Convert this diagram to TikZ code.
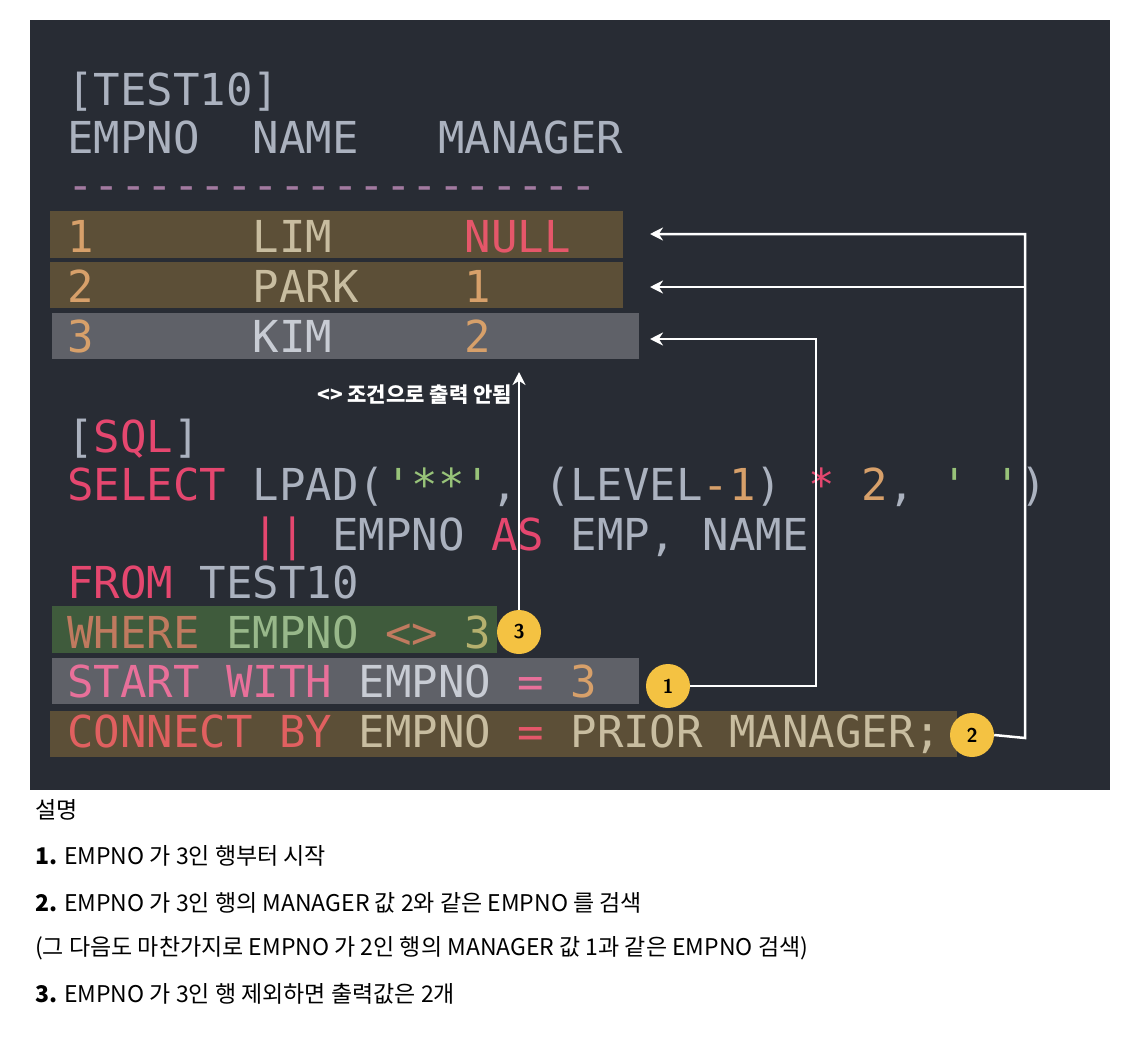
\documentclass[tikz,border=0pt]{standalone}
\usepackage{fontspec}
\setmonofont{DejaVu Sans Mono}
\newfontfamily\kr{Noto Sans CJK KR}
\usetikzlibrary{arrows.meta}
\definecolor{bg}{HTML}{282C34}
\definecolor{brn}{HTML}{5C4F37}
\definecolor{gry}{HTML}{5F6168}
\definecolor{grn}{HTML}{3F5B3C}
\definecolor{txt}{HTML}{ABB2BF}
\definecolor{lgt}{HTML}{C8CCD4}
\definecolor{beig}{HTML}{C8BDA0}
\definecolor{org}{HTML}{D7A06A}
\definecolor{red}{HTML}{E5576A}
\definecolor{pnk}{HTML}{E5476F}
\definecolor{pnk2}{HTML}{E8709A}
\definecolor{grnt}{HTML}{98C379}
\definecolor{purp}{HTML}{A37AA0}
\definecolor{wred}{HTML}{C07A5F}
\definecolor{wgrn}{HTML}{98B88A}
\definecolor{wyel}{HTML}{B5B06E}
\definecolor{cred}{HTML}{E06060}
\definecolor{yel}{HTML}{F4C242}
\tikzset{
  code/.style={anchor=base west,inner sep=0,font=\ttfamily\fontsize{44}{50}\selectfont,text=txt},
  band/.style={inner sep=0},
  badge/.style={circle,fill=yel,minimum size=44pt,inner sep=0,font=\sffamily\bfseries\fontsize{20}{20}\selectfont,text=black},
  wire/.style={draw=white,line width=2.5pt},
  arr/.style={wire,-{Stealth[length=13pt,width=13pt]}},
  expl/.style={anchor=base west,inner sep=0,font=\kr\fontsize{23}{28}\selectfont,text=black}
}
\begin{document}
\begin{tikzpicture}[x=1pt,y=-1pt]
\useasboundingbox (0,0) rectangle (1148,1036);
\fill[white] (0,0) rectangle (1148,1036);
\fill[bg] (30,20) rectangle (1110,790);
% bands
\fill[brn] (50,211) rectangle (623,258);
\fill[brn] (50,262) rectangle (623,308);
\fill[gry] (52,313) rectangle (639,359);
\fill[grn] (52,606) rectangle (497,653);
\fill[gry] (52,658) rectangle (639,704);
\fill[brn] (50,711) rectangle (957,757);
\coordinate (r1) at (650,234);
\coordinate (r2) at (650,287);
\coordinate (r3) at (650,339);
\coordinate (kim) at (519,372);
% table
\node[code] (t0) at (67,105) {[TEST10]};
\node[code] (hd) at (67,153) {EMPNO~~NAME~~~MANAGER};
\node[code,text=purp] (ds) at (67,200) {--------------------};
\node[code] (row1) at (67,252) {\textcolor{org}{1}~~~~~~\textcolor{beig}{LIM}~~~~~\textcolor{red}{NULL}};
\node[code] (row2) at (67,302) {\textcolor{org}{2}~~~~~~\textcolor{beig}{PARK}~~~~\textcolor{org}{1}};
\node[code] (row3) at (67,352) {\textcolor{org}{3}~~~~~~\textcolor{lgt}{KIM}~~~~~\textcolor{org}{2}};
\node[anchor=base east,inner sep=0,text=white,font=\kr\bfseries\fontsize{21}{24}\selectfont] (lab) at (512,402) {<> 조건으로 출력 안됨};
% SQL
\node[code] (s0) at (67,452) {[\textcolor{pnk}{SQL}]};
\node[code] (s1) at (67,500) {\textcolor{pnk}{SELECT}~LPAD(\textcolor{grnt}{'**'},~(LEVEL\textcolor{org}{-1})~\textcolor{pnk}{*}~\textcolor{org}{2},~\textcolor{grnt}{'~'})};
\node[code] (s2) at (67,550) {~~~~~~~\textcolor{pnk}{||}~EMPNO~\textcolor{pnk}{AS}~EMP,~NAME};
\node[code] (s3) at (67,598) {\textcolor{pnk}{FROM}~TEST10};
\node[code] (s4) at (67,648) {\textcolor{wred}{WHERE}~\textcolor{wgrn}{EMPNO}~\textcolor{wred}{<>}~\textcolor{wyel}{3}};
\node[code] (s5) at (67,697) {\textcolor{pnk2}{START~WITH}~\textcolor{lgt}{EMPNO}~\textcolor{pnk2}{=}~\textcolor{org}{3}};
\node[code] (s6) at (67,747) {\textcolor{cred}{CONNECT~BY}~\textcolor{beig}{EMPNO}~\textcolor{red}{=}~\textcolor{beig}{PRIOR~MANAGER;}};
% badges
\node[badge] (b3) at (519,632) {3};
\node[badge] (b1) at (668,686) {1};
\node[badge] (b2) at (972,735) {2};
% connectors
\draw[arr] (b3.north) -- (kim);
\draw[arr] (b1.east) -- (816,686) -- (816,339) -- (r3);
\draw[arr] (b2.east) -- (1025,738) -- (1025,234) -- (r1);
\draw[arr] (1025,287) -- (r2);
% explanation
\node[expl] (e0) at (35,818) {설명};
\node[expl] (e1) at (35,864) {\textbf{1.} EMPNO 가 3인 행부터 시작};
\node[expl] (e2) at (35,911) {\textbf{2.} EMPNO 가 3인 행의 MANAGER 값 2와 같은 EMPNO 를 검색};
\node[expl] (e3) at (35,955) {(그 다음도 마찬가지로 EMPNO 가 2인 행의 MANAGER 값 1과 같은 EMPNO 검색)};
\node[expl] (e4) at (35,1002) {\textbf{3.} EMPNO 가 3인 행 제외하면 출력값은 2개};
\end{tikzpicture}
\end{document}
